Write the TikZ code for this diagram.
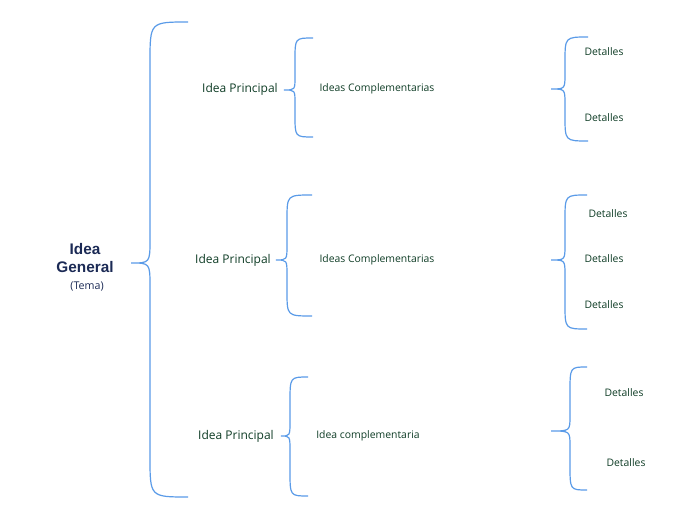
\documentclass[tikz,border=0pt]{standalone}
\usepackage{fontspec}
\setmainfont{Open Sans}
\newfontfamily\arialf{Liberation Sans}
\definecolor{brc}{HTML}{5A9BE8}
\definecolor{grn}{HTML}{0F3D26}
\definecolor{nav}{HTML}{1B2A55}
\newcommand{\mybrace}[7]{% tipx tipy xv xend top bottom radius
 \draw[brc,line width=0.9pt] (#4,#5) .. controls (#3,#5) .. (#3,#5+#7) -- (#3,#2-#7*0.6) .. controls (#3,#2) .. (#1,#2)
   .. controls (#3,#2) .. (#3,#2+#7*0.6) -- (#3,#6-#7) .. controls (#3,#6) .. (#4,#6);}
\tikzset{lbl/.style={text=grn,font=\fontsize{9pt}{10pt}\selectfont,inner sep=1pt},
 sm/.style={text=grn,font=\fontsize{7.8pt}{9pt}\selectfont,inner sep=1pt}}
\begin{document}
\begin{tikzpicture}[x=0.75pt,y=-0.75pt]
\useasboundingbox[fill=white] (0,0) rectangle (696,520);
\mybrace{131}{263}{150}{188}{22}{497}{40}
\mybrace{284}{90}{295}{313}{38}{137}{22}
\mybrace{276}{260}{287}{312}{195}{316}{25}
\mybrace{281}{436}{290}{308}{377}{496}{25}
\mybrace{551}{89}{565}{588}{37}{141}{25}
\mybrace{551}{260}{565}{587}{195}{329}{25}
\mybrace{551}{431}{570}{587}{367}{490}{25}
\node[text=nav,font=\arialf\bfseries\fontsize{11.5pt}{14pt}\selectfont,align=center] (g) at (85,258) {Idea\\General};
\node[text=nav,font=\fontsize{8pt}{10pt}\selectfont] (t) at (87,287) {(Tema)};
\node[lbl] (p1) at (240,89) {Idea Principal};
\node[lbl] (p2) at (233,260) {Idea Principal};
\node[lbl] (p3) at (236,436) {Idea Principal};
\node[sm] (c1) at (377,89) {Ideas Complementarias};
\node[sm] (c2) at (377,260) {Ideas Complementarias};
\node[sm] (c3) at (368,436) {Idea complementaria};
\node[sm] (d1) at (604,52) {Detalles};
\node[sm] (d2) at (604,118) {Detalles};
\node[sm] (d3) at (608,214) {Detalles};
\node[sm] (d4) at (604,259) {Detalles};
\node[sm] (d5) at (604,305) {Detalles};
\node[sm] (d6) at (624,393) {Detalles};
\node[sm] (d7) at (626,463) {Detalles};
\end{tikzpicture}
\end{document}
